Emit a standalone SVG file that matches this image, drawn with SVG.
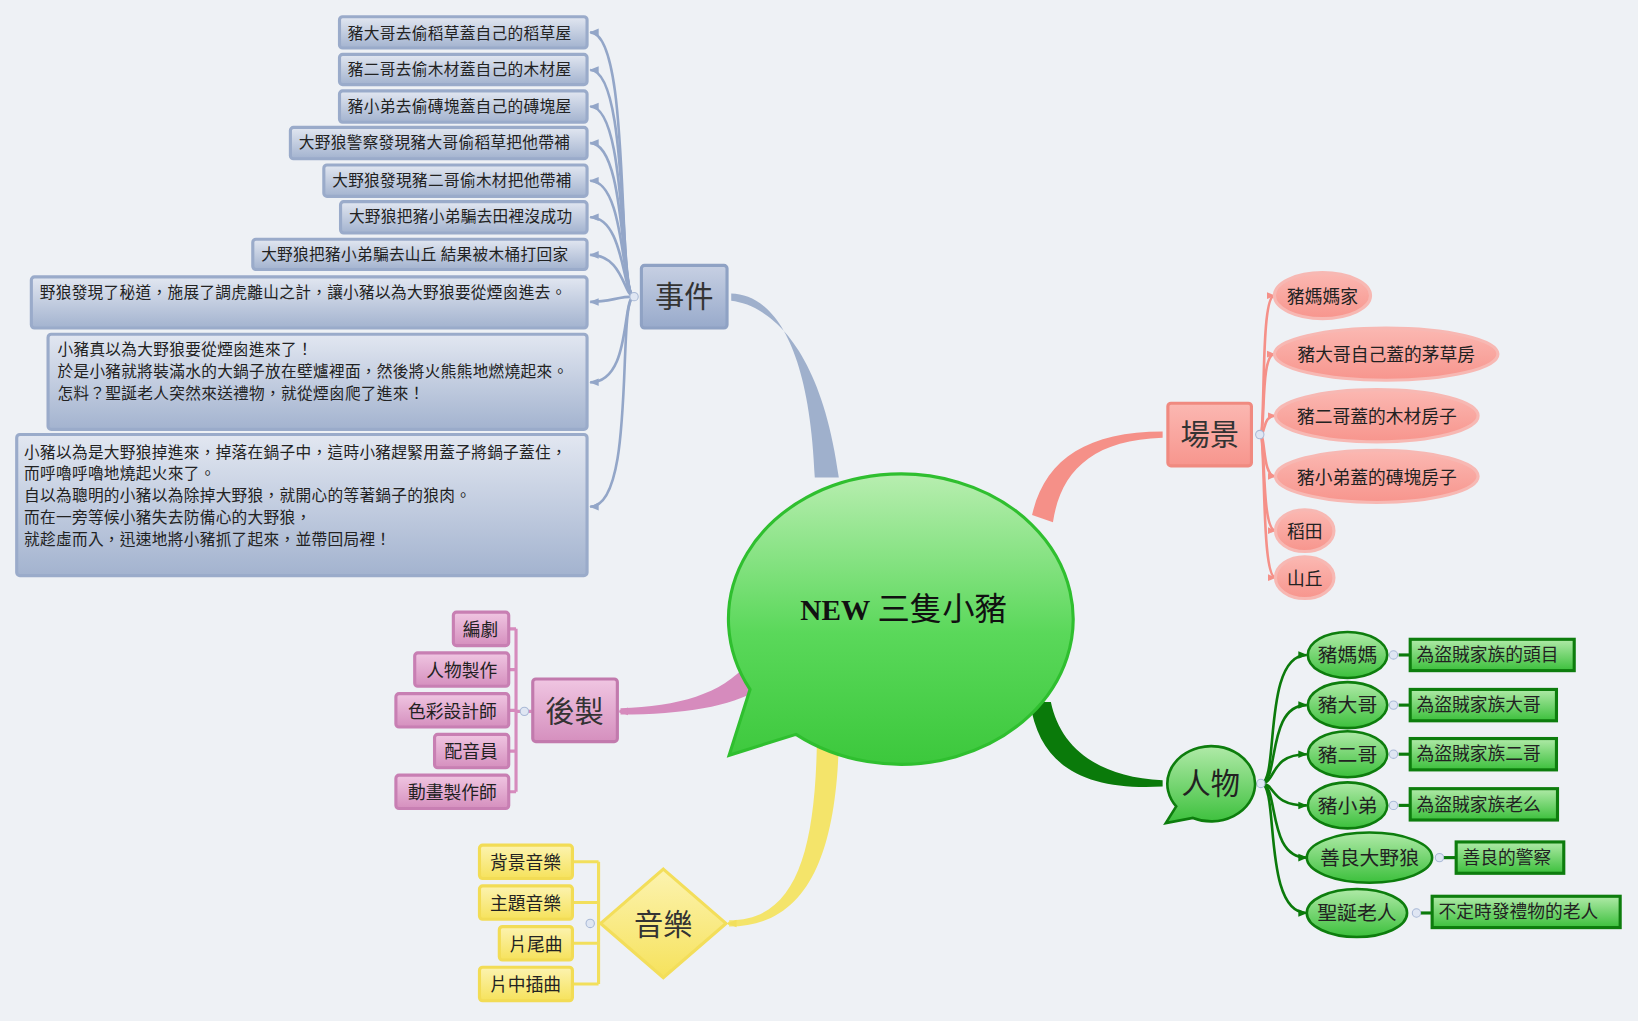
<svg xmlns="http://www.w3.org/2000/svg" width="1638" height="1021" viewBox="0 0 1638 1021">
<defs>
<linearGradient id="gC" x1="0" y1="0" x2="0" y2="1"><stop offset="0" stop-color="#b8eeb0"/><stop offset="0.55" stop-color="#5ad85a"/><stop offset="1" stop-color="#3cc83c"/></linearGradient>
<linearGradient id="gB" x1="0" y1="0" x2="0" y2="1"><stop offset="0" stop-color="#e2e7f1"/><stop offset="1" stop-color="#a3b3cf"/></linearGradient>
<linearGradient id="gBn" x1="0" y1="0" x2="0" y2="1"><stop offset="0" stop-color="#c7d0e3"/><stop offset="1" stop-color="#98aacb"/></linearGradient>
<linearGradient id="gG" x1="0" y1="0" x2="0" y2="1"><stop offset="0" stop-color="#b0eaa8"/><stop offset="1" stop-color="#3cc03c"/></linearGradient>
<linearGradient id="gP" x1="0" y1="0" x2="0" y2="1"><stop offset="0" stop-color="#f0c6e2"/><stop offset="1" stop-color="#d58fbe"/></linearGradient>
<linearGradient id="gY" x1="0" y1="0" x2="0" y2="1"><stop offset="0" stop-color="#fcf3b0"/><stop offset="1" stop-color="#f6e25c"/></linearGradient>
<linearGradient id="gR" x1="0" y1="0" x2="0" y2="1"><stop offset="0" stop-color="#fbb8b2"/><stop offset="1" stop-color="#f7958d"/></linearGradient>
<marker id="aB" viewBox="0 0 10 10" refX="9" refY="5" markerUnits="userSpaceOnUse" markerWidth="9" markerHeight="9" orient="auto"><path d="M0,1 L10,5 L0,9 z" fill="#93a6c8"/></marker>
<marker id="aG" viewBox="0 0 10 10" refX="9" refY="5" markerUnits="userSpaceOnUse" markerWidth="9" markerHeight="9" orient="auto"><path d="M0,1 L10,5 L0,9 z" fill="#0b7a0b"/></marker>
<marker id="aR" viewBox="0 0 10 10" refX="9" refY="5" markerUnits="userSpaceOnUse" markerWidth="8" markerHeight="8" orient="auto"><path d="M0,1 L10,5 L0,9 z" fill="#f59088"/></marker>
<marker id="aP" viewBox="0 0 10 10" refX="9" refY="5" markerUnits="userSpaceOnUse" markerWidth="9" markerHeight="9" orient="auto"><path d="M0,1 L10,5 L0,9 z" fill="#d68bbd"/></marker>
<marker id="aY" viewBox="0 0 10 10" refX="9" refY="5" markerUnits="userSpaceOnUse" markerWidth="9" markerHeight="9" orient="auto"><path d="M0,1 L10,5 L0,9 z" fill="#f2df5c"/></marker>
</defs>
<style>
text{font-family:"Noto Sans CJK TC","Noto Sans CJK SC",sans-serif;fill:#222}
.lf{font-size:15px;letter-spacing:0.3px}
.bx{fill:url(#gB);stroke:#9aabca;stroke-width:3}
.ge{fill:url(#gG);stroke:#0d7d0d;stroke-width:2.5}
.gr{fill:url(#gG);stroke:#0d7d0d;stroke-width:3}
.pk{fill:url(#gR);stroke:#f7b8b3;stroke-width:3}
.pu{fill:url(#gP);stroke:#c87fb3;stroke-width:3}
.ye{fill:url(#gY);stroke:#f2dc55;stroke-width:3}
.dot{fill:#dfe6f3;stroke:#a9b9d6;stroke-width:1}
.g17{font-size:17px}
</style>
<rect width="1638" height="1021" fill="#eef1f5"/>
<g transform="scale(1.0446)">
<g id="connectors" fill="none">
<path d="M780,457 C775,330 740,282 700,281 L700,288 C735,292 786,330 803,457 Z" fill="#9fb0cc"/>
<path d="M988,493 C1000,440 1040,413 1113,413 L1113,419 C1045,421 1015,452 1008,500 Z" fill="#f59088"/>
<path d="M986,672 L1006,672 C1015,715 1050,744 1113,747 L1113,753 C1040,757 995,735 986,672 Z" fill="#0a7a0a"/>
<path d="M716,635 C690,665 650,676 594,678 L594,684 C655,684 700,676 726,660 Z" fill="#d68bbd"/>
<path d="M782,712 C780,820 760,881 698,881 L698,887 C772,887 800,820 803,712 Z" fill="#f4e46a"/>
<path d="M600,681 L593,681" stroke="#d68bbd" stroke-width="3" marker-end="url(#aP)"/>
<path d="M706,884 L697,884" stroke="#f4e46a" stroke-width="3" marker-end="url(#aY)"/>
<g stroke="#93a6c8" stroke-width="2.5" marker-end="url(#aB)">
<path d="M607,284 C590,284 605,31 565,31"/>
<path d="M607,284 C592,284 603,67 565,67"/>
<path d="M607,284 C593,284 601,102 565,102"/>
<path d="M607,284 C594,284 600,137 565,137"/>
<path d="M607,284 C595,284 599,173 565,173"/>
<path d="M607,284 C596,284 598,208 565,208"/>
<path d="M607,284 C597,284 597,244 565,244"/>
<path d="M607,284 C590,284 585,289 565,289"/>
<path d="M607,284 C595,284 605,366 565,366"/>
<path d="M607,284 C590,284 610,485 565,485"/>
</g>
<g stroke="#f59088" stroke-width="2.5" marker-end="url(#aR)">
<path d="M1206,416 C1212,416 1206,283 1220,283"/>
<path d="M1206,416 C1212,416 1206,339 1220,339"/>
<path d="M1206,416 C1212,416 1208,398 1221,398"/>
<path d="M1206,416 C1212,416 1208,456 1221,456"/>
<path d="M1206,416 C1212,416 1207,508 1221,508"/>
<path d="M1206,416 C1212,416 1207,553 1221,553"/>
</g>
<g stroke="#0b7a0b" stroke-width="2.5" marker-end="url(#aG)">
<path d="M1207,750 C1225,750 1208,627 1251,627"/>
<path d="M1207,750 C1225,750 1212,675 1251,675"/>
<path d="M1207,750 C1222,750 1215,722 1251,722"/>
<path d="M1207,750 C1222,750 1215,771 1251,771"/>
<path d="M1207,750 C1225,750 1212,821 1251,821"/>
<path d="M1207,750 C1225,750 1208,874 1251,874"/>
</g>
<g stroke="#0b7a0b" stroke-width="3">
<path d="M1339,627 H1350"/><path d="M1339,675 H1350"/><path d="M1339,722 H1350"/><path d="M1339,771 H1350"/><path d="M1382,821 H1394"/><path d="M1360,874 H1371"/>
</g>
<g stroke="#d68bbd" stroke-width="3">
<path d="M509,681 H494 M494,602 V758 M487,602 H494 M487,641 H494 M487,680 H494 M487,719 H494 M487,758 H494"/>
</g>
<g stroke="#f2df5c" stroke-width="3">
<path d="M576,884 H573 M573,825 V942 M548,825 H573 M548,864 H573 M548,903 H573 M548,942 H573"/>
</g>
<circle class="dot" cx="607" cy="284" r="4"/>
<circle class="dot" cx="1206" cy="416" r="4"/>
<circle class="dot" cx="1207" cy="750" r="4"/>
<circle class="dot" cx="502" cy="681" r="4"/>
<circle class="dot" cx="565" cy="884" r="4"/>
<circle class="dot" cx="1334" cy="627" r="4"/><circle class="dot" cx="1334" cy="675" r="4"/><circle class="dot" cx="1334" cy="722" r="4"/><circle class="dot" cx="1334" cy="771" r="4"/><circle class="dot" cx="1378" cy="821" r="4"/><circle class="dot" cx="1356" cy="874" r="4"/>
</g>
<g id="center">
<path d="M718,660 L698,723 L762,703 A165,139 0 1 0 718,660 Z" fill="url(#gC)" stroke="#2fbf2f" stroke-width="3"/>
<text x="865" y="594" text-anchor="middle" font-size="31" style="fill:#111"><tspan font-family="Liberation Serif" font-weight="bold" font-size="28">NEW</tspan> 三隻小豬</text>
</g>
<g id="event">
<rect x="614" y="254" width="82" height="60" rx="3" fill="url(#gBn)" stroke="#8fa2c4" stroke-width="3"/>
<text x="655" y="294" text-anchor="middle" font-size="28" style="fill:#333">事件</text>
</g>
<g id="e1"><rect class="bx" x="325" y="16" width="237" height="30" rx="3"/><text class="lf" x="333" y="37">豬大哥去偷稻草蓋自己的稻草屋</text></g>
<g id="e2"><rect class="bx" x="325" y="52" width="237" height="29" rx="3"/><text class="lf" x="333" y="72">豬二哥去偷木材蓋自己的木材屋</text></g>
<g id="e3"><rect class="bx" x="325" y="87" width="237" height="30" rx="3"/><text class="lf" x="333" y="107">豬小弟去偷磚塊蓋自己的磚塊屋</text></g>
<g id="e4"><rect class="bx" x="278" y="122" width="284" height="30" rx="3"/><text class="lf" x="286" y="142">大野狼警察發現豬大哥偷稻草把他帶補</text></g>
<g id="e5"><rect class="bx" x="310" y="158" width="252" height="30" rx="3"/><text class="lf" x="318" y="178">大野狼發現豬二哥偷木材把他帶補</text></g>
<g id="e6"><rect class="bx" x="326" y="193" width="236" height="30" rx="3"/><text class="lf" x="334" y="213">大野狼把豬小弟騙去田裡沒成功</text></g>
<g id="e7"><rect class="bx" x="242" y="229" width="320" height="29" rx="3"/><text class="lf" x="250" y="249">大野狼把豬小弟騙去山丘 結果被木桶打回家</text></g>
<g id="e8"><rect class="bx" x="30" y="265" width="532" height="49" rx="3"/><text class="lf" x="38" y="285">野狼發現了秘道，施展了調虎離山之計，讓小豬以為大野狼要從煙囪進去。</text></g>
<g id="e9"><rect class="bx" x="46" y="320" width="516" height="91" rx="3"/><text class="lf" x="55" y="340">小豬真以為大野狼要從煙囪進來了！</text><text class="lf" x="55" y="361">於是小豬就將裝滿水的大鍋子放在壁爐裡面，然後將火熊熊地燃燒起來。</text><text class="lf" x="55" y="382">怎料？聖誕老人突然來送禮物，就從煙囪爬了進來！</text></g>
<g id="e10"><rect class="bx" x="16" y="416" width="546" height="135" rx="3"/><text class="lf" x="23" y="438">小豬以為是大野狼掉進來，掉落在鍋子中，這時小豬趕緊用蓋子將鍋子蓋住，</text><text class="lf" x="23" y="459">而呼嚕呼嚕地燒起火來了。</text><text class="lf" x="23" y="480">自以為聰明的小豬以為除掉大野狼，就開心的等著鍋子的狼肉。</text><text class="lf" x="23" y="501">而在一旁等候小豬失去防備心的大野狼，</text><text class="lf" x="23" y="522">就趁虛而入，迅速地將小豬抓了起來，並帶回局裡！</text></g>
<g id="scene">
<rect x="1118" y="386" width="80" height="60" rx="3" fill="url(#gR)" stroke="#f08a80" stroke-width="3"/>
<text x="1158" y="426" text-anchor="middle" font-size="28" style="fill:#333">場景</text>
</g>
<g id="s1"><ellipse class="pk" cx="1266" cy="283" rx="46" ry="22"/><text x="1266" y="290" text-anchor="middle" font-size="17">豬媽媽家</text></g>
<g id="s2"><ellipse class="pk" cx="1327" cy="339" rx="107" ry="25"/><text x="1327" y="346" text-anchor="middle" font-size="17">豬大哥自己蓋的茅草房</text></g>
<g id="s3"><ellipse class="pk" cx="1318" cy="398" rx="97" ry="25"/><text x="1318" y="405" text-anchor="middle" font-size="17">豬二哥蓋的木材房子</text></g>
<g id="s4"><ellipse class="pk" cx="1318" cy="456" rx="97" ry="25"/><text x="1318" y="463" text-anchor="middle" font-size="17">豬小弟蓋的磚塊房子</text></g>
<g id="s5"><ellipse class="pk" cx="1249" cy="508" rx="28" ry="20"/><text x="1249" y="515" text-anchor="middle" font-size="17">稻田</text></g>
<g id="s6"><ellipse class="pk" cx="1249" cy="553" rx="28" ry="20"/><text x="1249" y="560" text-anchor="middle" font-size="17">山丘</text></g>
<g id="people">
<path d="M1126,772 L1116,788 L1142,783 A42,36 0 1 0 1126,772 Z" fill="url(#gG)" stroke="#0d7d0d" stroke-width="2.5"/>
<text x="1159" y="760" text-anchor="middle" font-size="28" style="fill:#222">人物</text>
</g>
<g id="p1"><ellipse class="ge" cx="1290" cy="627" rx="38" ry="22"/><text x="1290" y="634" text-anchor="middle" font-size="19">豬媽媽</text></g>
<g id="p2"><ellipse class="ge" cx="1290" cy="675" rx="38" ry="22"/><text x="1290" y="682" text-anchor="middle" font-size="19">豬大哥</text></g>
<g id="p3"><ellipse class="ge" cx="1290" cy="722" rx="38" ry="22"/><text x="1290" y="729" text-anchor="middle" font-size="19">豬二哥</text></g>
<g id="p4"><ellipse class="ge" cx="1290" cy="771" rx="38" ry="22"/><text x="1290" y="778" text-anchor="middle" font-size="19">豬小弟</text></g>
<g id="p5"><ellipse class="ge" cx="1311" cy="821" rx="60" ry="24"/><text x="1311" y="828" text-anchor="middle" font-size="19">善良大野狼</text></g>
<g id="p6"><ellipse class="ge" cx="1299" cy="874" rx="48" ry="23"/><text x="1299" y="881" text-anchor="middle" font-size="19">聖誕老人</text></g>
<g id="d1"><rect class="gr" x="1350" y="612" width="157" height="30"/><text class="g17" x="1356" y="633">為盜賊家族的頭目</text></g>
<g id="d2"><rect class="gr" x="1350" y="660" width="140" height="30"/><text class="g17" x="1356" y="681">為盜賊家族大哥</text></g>
<g id="d3"><rect class="gr" x="1350" y="707" width="140" height="30"/><text class="g17" x="1356" y="728">為盜賊家族二哥</text></g>
<g id="d4"><rect class="gr" x="1350" y="755" width="141" height="30"/><text class="g17" x="1356" y="776">為盜賊家族老么</text></g>
<g id="d5"><rect class="gr" x="1394" y="806" width="103" height="30"/><text class="g17" x="1400" y="827">善良的警察</text></g>
<g id="d6"><rect class="gr" x="1371" y="858" width="180" height="30"/><text class="g17" x="1377" y="879">不定時發禮物的老人</text></g>
<g id="post">
<rect x="510" y="650" width="81" height="60" rx="3" fill="url(#gP)" stroke="#c27aad" stroke-width="3"/>
<text x="550" y="691" text-anchor="middle" font-size="28" style="fill:#333">後製</text>
</g>
<g id="q1"><rect class="pu" x="434" y="586" width="53" height="32" rx="3"/><text x="460" y="609" text-anchor="middle" font-size="17">編劇</text></g>
<g id="q2"><rect class="pu" x="397" y="625" width="90" height="32" rx="3"/><text x="442" y="648" text-anchor="middle" font-size="17">人物製作</text></g>
<g id="q3"><rect class="pu" x="379" y="664" width="108" height="32" rx="3"/><text x="433" y="687" text-anchor="middle" font-size="17">色彩設計師</text></g>
<g id="q4"><rect class="pu" x="416" y="703" width="71" height="32" rx="3"/><text x="451" y="726" text-anchor="middle" font-size="17">配音員</text></g>
<g id="q5"><rect class="pu" x="379" y="742" width="108" height="32" rx="3"/><text x="433" y="765" text-anchor="middle" font-size="17">動畫製作師</text></g>
<g id="music">
<path d="M635,832 L695,884 L635,936 L575,884 Z" fill="url(#gY)" stroke="#f3de5a" stroke-width="3"/>
<text x="635" y="895" text-anchor="middle" font-size="28" style="fill:#333">音樂</text>
</g>
<g id="m1"><rect class="ye" x="459" y="809" width="89" height="32" rx="3"/><text x="503" y="832" text-anchor="middle" font-size="17">背景音樂</text></g>
<g id="m2"><rect class="ye" x="459" y="848" width="89" height="32" rx="3"/><text x="503" y="871" text-anchor="middle" font-size="17">主題音樂</text></g>
<g id="m3"><rect class="ye" x="478" y="887" width="70" height="32" rx="3"/><text x="513" y="910" text-anchor="middle" font-size="17">片尾曲</text></g>
<g id="m4"><rect class="ye" x="459" y="926" width="89" height="32" rx="3"/><text x="503" y="949" text-anchor="middle" font-size="17">片中插曲</text></g>
</g>
</svg>
